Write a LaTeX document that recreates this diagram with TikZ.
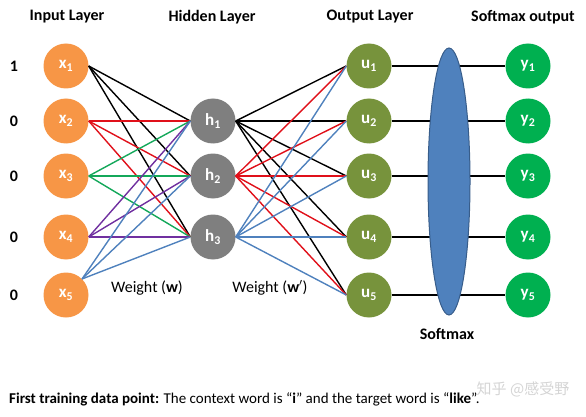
\documentclass[tikz,border=0pt]{standalone}
\usepackage{fontspec}
\setmainfont{Carlito}
\newfontfamily\cjkfont{Noto Sans CJK SC}
\usetikzlibrary{shapes.geometric}
\definecolor{orangeN}{HTML}{F79646}
\definecolor{grayN}{HTML}{7F7F7F}
\definecolor{oliveN}{HTML}{77933C}
\definecolor{greenN}{HTML}{00B050}
\definecolor{blueE}{HTML}{4F81BD}
\definecolor{blueEd}{HTML}{385D8A}
\definecolor{redL}{HTML}{E0101A}
\definecolor{greenL}{HTML}{14A85A}
\definecolor{purpleL}{HTML}{7030A0}
\definecolor{blueL}{HTML}{4F81BD}
\definecolor{wmark}{HTML}{D4D4D4}
\begin{document}
\begin{tikzpicture}[x=1pt,y=-1pt,
  neuron/.style={circle, minimum size=45pt, inner sep=0pt, text=white,
    font=\bfseries\fontsize{17}{19}\selectfont},
  inp/.style={neuron, fill=orangeN},
  hid/.style={neuron, fill=grayN},
  outn/.style={neuron, fill=oliveN},
  smx/.style={neuron, fill=greenN},
  conn/.style={line width=1.4pt},
  hdr/.style={font=\bfseries\fontsize{16}{19}\selectfont, inner sep=0pt},
  txt/.style={font=\fontsize{16}{19}\selectfont, inner sep=0pt}]
\useasboundingbox (0,0) rectangle (586,417);
% headings
\node[hdr] (hin) at (67,17) {Input Layer};
\node[hdr] (hhid) at (212,17) {Hidden Layer};
\node[hdr] (hout) at (370,17) {Output Layer};
\node[hdr] (hsm) at (523,17) {Softmax output};
% input values
\node[hdr] (v1) at (14,66) {1};
\node[hdr] (v2) at (14,121) {0};
\node[hdr] (v3) at (14,176) {0};
\node[hdr] (v4) at (14,237) {0};
\node[hdr] (v5) at (14,295) {0};
% nodes
\foreach \i/\y in {1/66,2/121,3/176,4/237,5/295}{
  \node[inp] (x\i) at (66,\y) {x\textsubscript{\i}};
  \node[outn] (u\i) at (369,\y) {u\textsubscript{\i}};
  \node[smx] (y\i) at (528,\y) {y\textsubscript{\i}};
}
\foreach \i/\y in {1/121,2/176,3/237}{
  \node[hid] (h\i) at (213,\y) {h\textsubscript{\i}};
}
% input -> hidden
\foreach \i/\c in {1/black,2/redL,3/greenL,4/purpleL}{
  \foreach \j in {1,2,3}{
    \draw[conn,\c] (x\i.east) -- (h\j.west);
  }
}
\foreach \j in {1,2,3}{
  \draw[conn,blueL] (x5.north east) -- (h\j.west);
}
% hidden -> output
\foreach \j/\c in {1/black,2/redL,3/blueL}{
  \foreach \k in {1,...,5}{
    \draw[conn,\c] (h\j.east) -- (u\k.west);
  }
}
% output -> softmax output
\foreach \k in {1,...,5}{
  \draw[conn,black] (u\k.east) -- (y\k.west);
}
\node[ellipse, draw=blueEd, line width=1pt, fill=blueE, minimum width=42pt,
  minimum height=267pt, inner sep=0pt] (sm) at (449,181.5) {};
% labels
\node[txt] (w1) at (147,288) {Weight (\textbf{w})};
\node[txt] (w2) at (270,288) {Weight (\textbf{w}$'$)};
\node[hdr] (smlab) at (447,334) {Softmax};
\node[txt, font=\fontsize{15}{18}\selectfont, anchor=west] (foot) at (9,399) {\textbf{First training data point:} The context word is “\textbf{i}” and the target word is “\textbf{like}”.};
\node[font=\cjkfont\fontsize{15}{18}\selectfont, text=wmark, inner sep=0pt] (wm) at (523,389) {知乎 @感受野};
\end{tikzpicture}
\end{document}
